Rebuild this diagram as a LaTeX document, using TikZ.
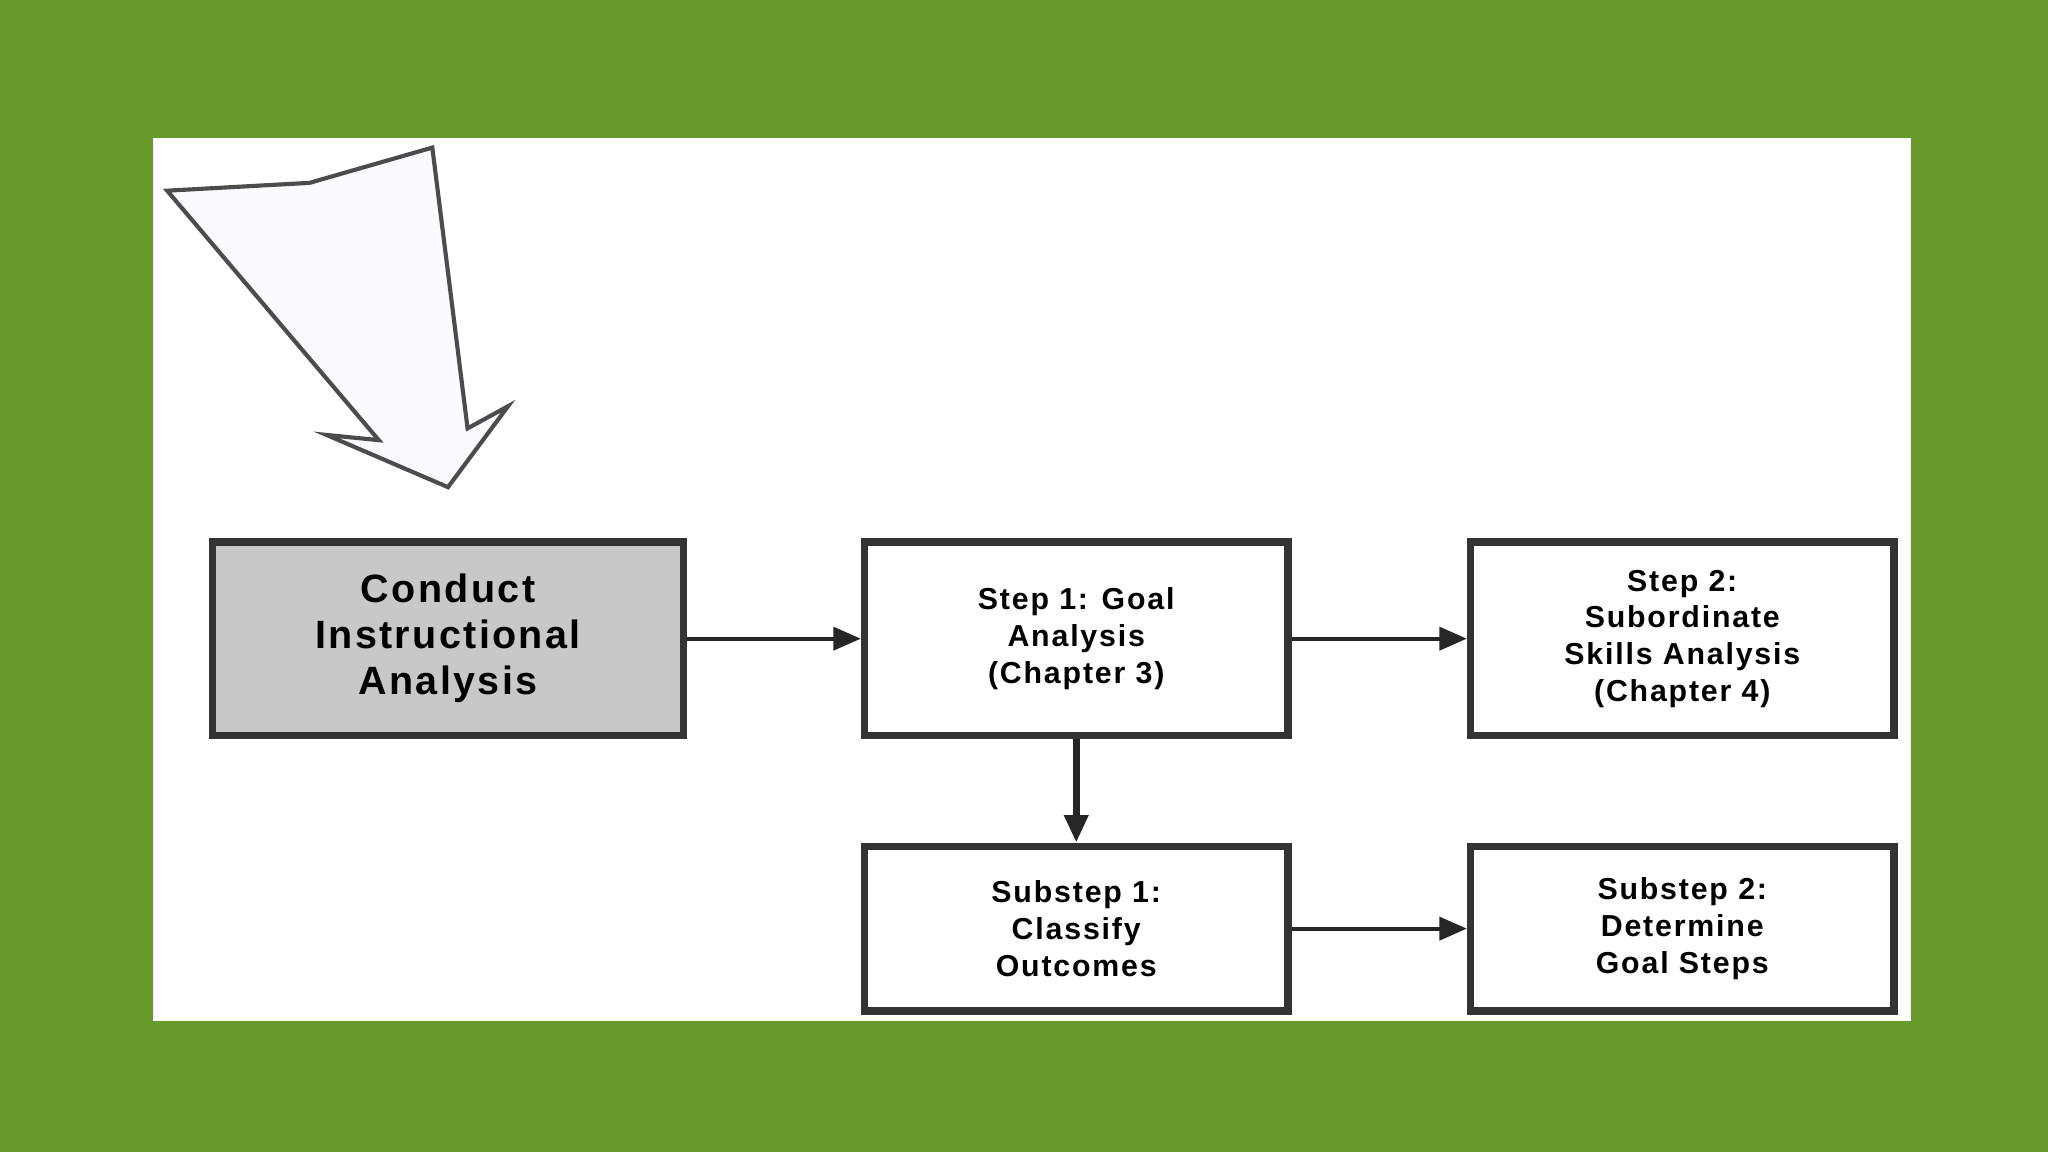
\documentclass[tikz,border=0pt]{standalone}
\usepackage{fontspec}
\setmainfont{Liberation Sans}[LetterSpace=6]
\usetikzlibrary{arrows.meta}
\definecolor{bg}{HTML}{67992B}
\definecolor{boxgray}{HTML}{C8C8C8}
\begin{document}
\begin{tikzpicture}[x=0.01cm,y=-0.01cm,
  box/.style={draw=black!80,line width=1.6pt,minimum width=3.24cm,minimum height=1.48cm,align=center,inner sep=0pt,
    font=\fontsize{6.6}{8}\selectfont\bfseries},
  arr/.style={-{Triangle[length=6pt,width=5pt]},line width=0.9pt,black!85}]
\useasboundingbox (0,0) rectangle (1568,882);
\fill[bg] (0,0) rectangle (1568,882);
\fill[white] (117,106) rectangle (1463,782);
\draw[black!70,line width=0.9pt,fill={rgb,255:red,250;green,250;blue,255}]
  (128,146) -- (237,140) -- (331,113) -- (358,328) -- (389,311) -- (343,373) -- (250,333) -- (290,337) -- cycle;
\node[box,fill=boxgray,minimum width=3.6cm,font=\fontsize{8.6}{10}\selectfont\bfseries] (ci) at (343,489) {Conduct\\Instructional\\Analysis};
\node[box] (s1) at (824,489) {Step 1: Goal\\Analysis\\(Chapter 3)};
\node[box] (s2) at (1288,489) {Step 2:\\Subordinate\\Skills Analysis\\(Chapter 4)};
\node[box,minimum height=1.26cm] (u1) at (824,711) {Substep 1:\\Classify\\Outcomes};
\node[box,minimum height=1.26cm] (u2) at (1288,711) {Substep 2:\\Determine\\Goal Steps};
\draw[arr] (ci) -- (s1);
\draw[arr] (s1) -- (s2);
\draw[arr,line width=1.5pt] (s1) -- (u1);
\draw[arr] (u1) -- (u2);
\end{tikzpicture}
\end{document}
